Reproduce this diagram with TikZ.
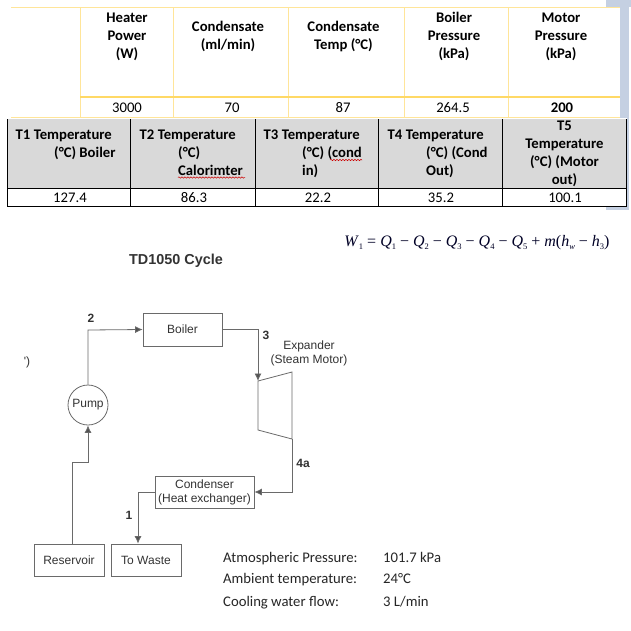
\documentclass[tikz,border=0pt]{standalone}
\usepackage{fontspec}
\setmainfont{Carlito}
\newfontfamily\diagfont{Liberation Sans}
\newfontfamily\eqfont{Liberation Serif}
\usetikzlibrary{arrows.meta,decorations.pathmorphing}
\definecolor{goldA}{HTML}{FFE599}
\definecolor{goldB}{HTML}{FFD966}
\definecolor{greyfill}{HTML}{D9D9D9}
\definecolor{bluegrey}{HTML}{C5D0E2}
\definecolor{diagline}{HTML}{6A6A6A}
\definecolor{diagtext}{HTML}{333333}
\newcommand\sbs[1]{\raisebox{-3pt}{\fontsize{8.5}{8.5}\selectfont\upshape #1}}
\tikzset{
  x=1pt,y=-1pt,
  headA/.style={font=\fontsize{14.7}{18}\selectfont\bfseries,align=center,text=black,inner sep=0pt},
  cellA/.style={font=\fontsize{14.7}{18}\selectfont,text=black,inner sep=0pt,anchor=base},
  headB/.style={font=\fontsize{14.7}{18}\selectfont\bfseries,text=black,inner sep=0pt,anchor=base west},
  dbox/.style={draw=diagline,line width=0.8pt,font=\diagfont\fontsize{12}{14}\selectfont,text=diagtext,align=center,inner sep=0pt},
  dlabel/.style={font=\diagfont\fontsize{12}{14}\selectfont,text=diagtext,align=center,inner sep=0pt},
  dnum/.style={font=\diagfont\fontsize{12}{14}\selectfont\bfseries,text=diagtext,inner sep=0pt},
  flow/.style={draw=diagline,line width=0.8pt},
  flowarrow/.style={flow,-{Latex[length=7.5pt,width=7pt,fill=diagtext!85!white]}},
  infotext/.style={font=\fontsize{14.7}{18}\selectfont,text=black!85,inner sep=0pt,anchor=base west},
  wavy/.style={draw=red!80!black,line width=0.5pt,decorate,decoration={snake,amplitude=0.7pt,segment length=3pt}},
  tabB/.style={draw=black,line width=0.8pt},
  tabAthin/.style={draw=goldA,line width=0.8pt},
}
\begin{document}
\begin{tikzpicture}
\useasboundingbox (0,0) rectangle (631,630);
\fill[white] (0,0) rectangle (631,630);
% blue-grey strip behind the tables
\fill[bluegrey] (606,0) rectangle (631,7);
\fill[bluegrey] (620,7) rectangle (629,118);
\fill[bluegrey] (627,118) rectangle (629,210);
\fill[bluegrey] (606,207) rectangle (629,210);
% first table
\draw[tabAthin] (11,7.5) -- (620,7.5);
\draw[tabAthin] (80,7.5) -- (80,117);
\draw[tabAthin] (173,7.5) -- (173,117);
\draw[tabAthin] (288,7.5) -- (288,117);
\draw[tabAthin] (404,7.5) -- (404,117);
\draw[tabAthin] (508,7.5) -- (508,117);
\draw[draw=goldB,line width=1.6pt] (80,97) -- (620,97);
\draw[tabAthin] (11,117) -- (620,117);
\node[headA] (h1) at (127,36.5) {Heater\\Power\\(W)};
\node[headA] (h2) at (228,36) {Condensate\\(ml/min)};
\node[headA] (h3) at (343.5,36) {Condensate\\Temp (°C)};
\node[headA] (h4) at (454,36.5) {Boiler\\Pressure\\(kPa)};
\node[headA] (h5) at (561,36.5) {Motor\\Pressure\\(kPa)};
\node[cellA] (v1) at (127,112) {3000};
\node[cellA] (v2) at (232,112) {70};
\node[cellA] (v3) at (343,112) {87};
\node[cellA] (v4) at (453,112) {264.5};
\node[cellA,font=\fontsize{14.7}{18}\selectfont\bfseries] (v5) at (562,112) {200};
% second table
\fill[greyfill] (7.5,119) rectangle (626.5,188);
\draw[tabB] (7.5,188.5) -- (626.5,188.5);
\draw[tabB] (7.5,206.5) -- (626.5,206.5);
\foreach \xx in {7.5,130.5,255.5,378.5,502.5,626.5}{\draw[tabB] (\xx,119) -- (\xx,207);}
\node[headB] (t1a) at (15.5,139) {T1 Temperature};
\node[headB] (t1b) at (54,157) {(°C) Boiler};
\node[headB] (t2a) at (139.5,139) {T2 Temperature};
\node[headB] (t2b) at (178,157) {(°C)};
\node[headB] (t2c) at (178,175) {Calorimter};
\node[headB] (t3a) at (263.5,139) {T3 Temperature};
\node[headB] (t3b) at (302,157) {(°C) (cond};
\node[headB] (t3c) at (302,175) {in)};
\node[headB] (t4a) at (387.5,139) {T4 Temperature};
\node[headB] (t4b) at (426,157) {(°C) (Cond};
\node[headB] (t4c) at (426,175) {Out)};
\node[headA] (t5) at (564.5,154) {T5\\Temperature\\(°C) (Motor\\out)};
\draw[wavy] (178,177.5) -- (245,177.5);
\draw[wavy] (330,160) -- (362,160);
\node[cellA] (r1) at (70,202) {127.4};
\node[cellA] (r2) at (194,202) {86.3};
\node[cellA] (r3) at (318,202) {22.2};
\node[cellA] (r4) at (441,202) {35.2};
\node[cellA] (r5) at (565,202) {100.1};
% equation
\node[font=\eqfont\fontsize{16}{18}\selectfont,text=black!85!blue,inner sep=0pt] (eq) at (477,243)
 {\textit{W}\sbs{1} = \textit{Q}\sbs{1} − \textit{Q}\sbs{2} − \textit{Q}\sbs{3} − \textit{Q}\sbs{4} − \textit{Q}\sbs{5} + \textit{m}(\textit{h}\raisebox{-3pt}{\fontsize{8.5}{8.5}\selectfont\itshape w} − \textit{h}\sbs{3})};
% diagram
\node[font=\diagfont\fontsize{14.4}{16}\selectfont\bfseries,text=diagtext,inner sep=0pt] (title) at (176,261) {TD1050 Cycle};
\node[dlabel] (stray) at (27,362) {')};
\node[dbox,minimum width=79pt,minimum height=33pt] (boiler) at (182.5,329.5) {Boiler};
\node[dbox,circle,minimum size=40pt] (pump) at (88,405) {Pump};
\node[dbox,minimum width=99pt,minimum height=32pt] (cond) at (204.5,492) {Condenser\\(Heat exchanger)};
\node[dbox,minimum width=70pt,minimum height=32pt] (res) at (69,560) {Reservoir};
\node[dbox,minimum width=70pt,minimum height=32pt] (waste) at (146,560) {To Waste};
\draw[flow,fill=white] (258,381) coordinate (expin) -- (292,372) -- (292,439) coordinate (expout) -- (258,430) -- cycle;
\node[dlabel] (explabel) at (309,353) {Expander\\(Steam Motor)};
\coordinate (c2) at (88,330);
\coordinate (c3) at (258,329.5);
\coordinate (c4) at (292,492);
\coordinate (c1) at (138,492);
\coordinate (c5) at (72,462);
\coordinate (c6) at (88,462);
\draw[flowarrow] (pump.north) -- (c2) -- (boiler.west);
\draw[flowarrow] (boiler.east) -- (c3) -- (expin);
\draw[flowarrow] (expout) -- (c4) -- (cond.east);
\draw[flowarrow] (cond.west) -- (c1) -- (c1 |- waste.north);
\draw[flowarrow] (c5 |- res.north) -- (c5) -- (c6) -- (pump.south);
\node[dnum] (n2) at (91,318) {2};
\node[dnum] (n3) at (266,335) {3};
\node[dnum] (n4) at (303,463) {4a};
\node[dnum] (n1) at (129,515) {1};
% info
\node[infotext] (i1) at (223,562) {Atmospheric Pressure:};
\node[infotext] (i2) at (223,583) {Ambient temperature:};
\node[infotext] (i3) at (223,606) {Cooling water flow:};
\node[infotext] (j1) at (383,562) {101.7 kPa};
\node[infotext] (j2) at (383,583) {24°C};
\node[infotext] (j3) at (383,606) {3 L/min};
\end{tikzpicture}
\end{document}
